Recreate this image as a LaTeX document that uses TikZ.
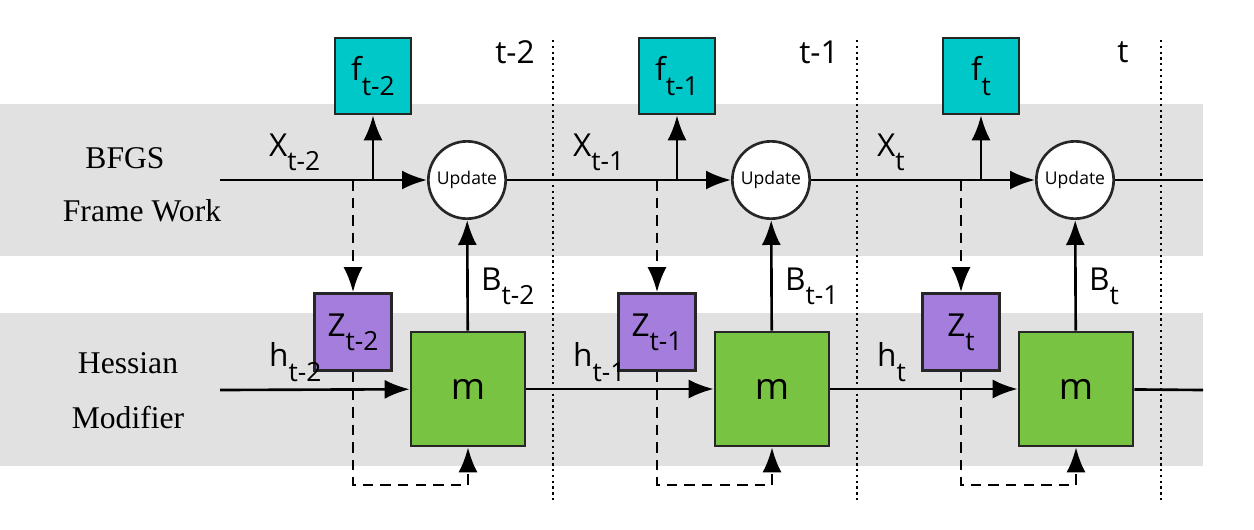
\documentclass[tikz,border=0pt]{standalone}
\usepackage{fontspec}
\setmainfont{Open Sans}
\newfontfamily\serif{Liberation Serif}
\usetikzlibrary{arrows.meta}
\definecolor{bandgray}{RGB}{225,225,225}
\definecolor{fcyan}{RGB}{0,200,200}
\definecolor{zpurple}{RGB}{165,125,220}
\definecolor{mgreen}{RGB}{120,195,65}
\newcommand{\sub}[1]{\raisebox{-0.45em}{\fontsize{15}{15}\selectfont #1}}
\tikzset{
  box/.style={draw=black!85, line width=1.5pt, minimum size=#1},
  arr/.style={-{Latex[length=5mm,width=3.8mm]}, line width=1.5pt},
  dsh/.style={dash pattern=on 6pt off 4pt},
  lbl/.style={font=\fontsize{18}{18}\selectfont},
  sidetxt/.style={font=\serif\fontsize{18}{18}\selectfont}
}
\begin{document}
\begin{tikzpicture}[x=0.02cm, y=-0.02cm, line width=1.5pt]
  \useasboundingbox (0,0) rectangle (1254,529);
  % Bands
  \fill[bandgray] (0,104) rectangle (1203,256);
  \fill[bandgray] (0,313) rectangle (1203,466);
  \node[sidetxt] (bfgs) at (125,158) {BFGS};
  \node[sidetxt] (fw) at (142,211) {Frame Work};
  \node[sidetxt] (hes) at (128,363) {Hessian};
  \node[sidetxt] (mod) at (128,418) {Modifier};
  \coordinate (xin) at (220,180);
  \coordinate (hin) at (220,390);
  \coordinate (xout) at (1203,180);
  \coordinate (hout) at (1203,390);
  % Columns
  \foreach \i/\s in {0/t-2,1/t-1,2/t}{
    \pgfmathsetmacro{\o}{\i*304}
    \begin{scope}[xshift=\o*0.02cm]
      \node[box=1.52cm, fill=fcyan, lbl] (f\i) at (373,76) {f\sub{\s}};
      \node[box=1.54cm, fill=zpurple, lbl] (z\i) at (353,332) {Z\sub{\s}};
      \node[box=2.28cm, fill=mgreen, font=\fontsize{21}{21}\selectfont] (m\i) at (468,389) {m};
      \node[circle, draw=black!85, fill=white, minimum size=1.52cm, font=\fontsize{10}{10}\selectfont] (up\i) at (467,180) {Update};
      \coordinate (fb\i) at (373,180);
      \coordinate (zb\i) at (353,180);
      \coordinate (lp\i) at (353,485);
      \coordinate (rp\i) at (468,485);
      \draw[dotted, line width=1.3pt] (553,40) -- (553,500);
      \node[lbl] (tl\i) at (515,52) {\s};
      \node[lbl, anchor=west] (xl\i) at (262,152) {X\sub{\s}};
      \node[lbl, anchor=west] (hl\i) at (262,362) {h\sub{\s}};
      \node[lbl, anchor=west] (bl\i) at (474,286) {B\sub{\s}};
    \end{scope}
    \draw[arr] (fb\i) -- (f\i);
    \draw[arr, dsh] (zb\i) -- (z\i);
    \draw[dsh] (z\i) -- (lp\i) -- (rp\i);
    \draw[arr, dsh] (rp\i) -- (m\i);
    \draw[arr] (m\i) -- (up\i);
  }
  % Main flows
  \draw[arr] (xin) -- (up0);
  \draw[arr] (up0) -- (up1);
  \draw[arr] (up1) -- (up2);
  \draw (up2) -- (xout);
  \draw[arr] (hin) -- (m0);
  \draw[arr] (m0) -- (m1);
  \draw[arr] (m1) -- (m2);
  \draw (m2) -- (hout);
\end{tikzpicture}
\end{document}
